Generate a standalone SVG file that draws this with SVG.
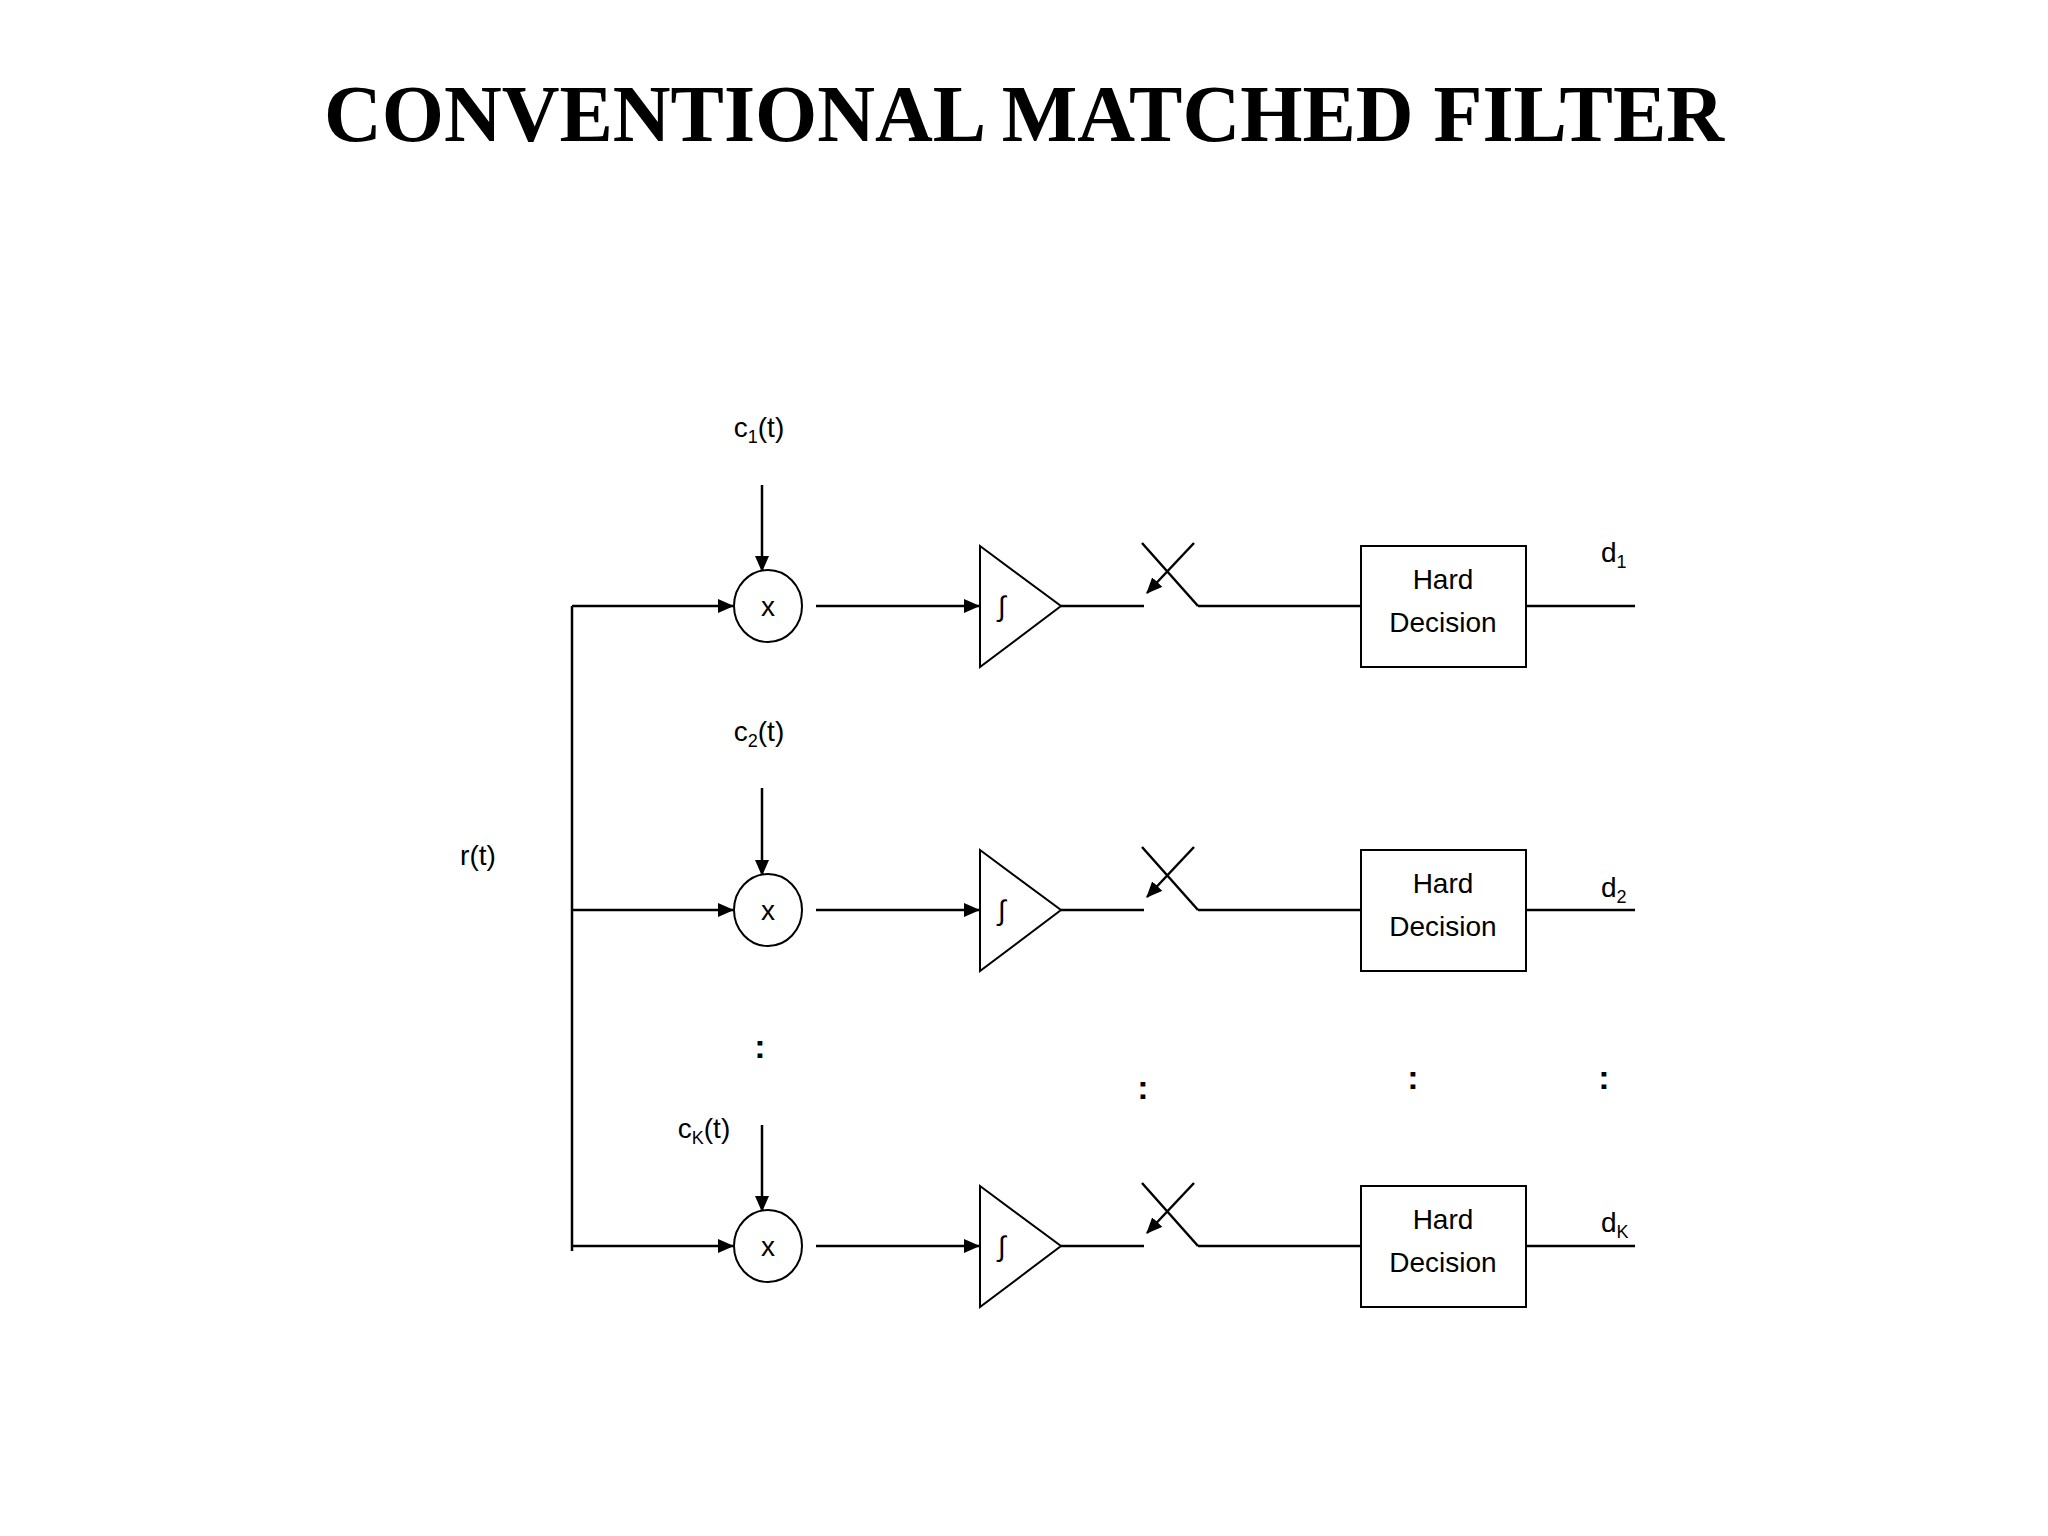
<svg xmlns="http://www.w3.org/2000/svg" width="2048" height="1536" viewBox="0 0 2048 1536">
<defs>
<marker id="ah2" markerWidth="16" markerHeight="14" refX="15" refY="7" orient="auto" markerUnits="userSpaceOnUse"><path d="M0,0 L16,7 L0,14 z" fill="#000"/></marker>
<style>
.l{stroke:#000;stroke-width:2.5;fill:none}
.s{stroke:#000;stroke-width:2;fill:#fff}
.t{font-family:"Liberation Sans",Arial,sans-serif;font-size:28px;fill:#000}
.c{text-anchor:middle}
</style>
</defs>
<rect width="2048" height="1536" fill="#fff"/>
<text x="1024" y="141" text-anchor="middle" font-family="Liberation Serif,serif" font-weight="bold" font-size="80">CONVENTIONAL MATCHED FILTER</text>
<text class="t c" x="478" y="865">r(t)</text>
<g id="connectors">
<path class="l" d="M572,606 V1251"/>
<path class="l" d="M572,606 H733" marker-end="url(#ah2)"/>
<path class="l" d="M572,910 H733" marker-end="url(#ah2)"/>
<path class="l" d="M572,1246 H733" marker-end="url(#ah2)"/>
<path class="l" d="M762,485 V571" marker-end="url(#ah2)"/>
<path class="l" d="M762,788 V875" marker-end="url(#ah2)"/>
<path class="l" d="M762,1125 V1211" marker-end="url(#ah2)"/>
<path class="l" d="M816,606 H979" marker-end="url(#ah2)"/>
<path class="l" d="M816,910 H979" marker-end="url(#ah2)"/>
<path class="l" d="M816,1246 H979" marker-end="url(#ah2)"/>
<path class="l" d="M1061,606 H1144 M1198,606 H1361 M1526,606 H1635"/>
<path class="l" d="M1061,910 H1144 M1198,910 H1361 M1526,910 H1635"/>
<path class="l" d="M1061,1246 H1144 M1198,1246 H1361 M1526,1246 H1635"/>
</g>
<g id="row1">
<text class="t c" x="759" y="437">c<tspan font-size="18" dy="6">1</tspan><tspan dy="-6">(t)</tspan></text>
<ellipse class="s" cx="768" cy="606" rx="34" ry="36"/><text class="t c" x="768" y="616" font-size="22">x</text>
<polygon class="s" points="980,546 1061,606 980,667"/><text class="t" x="998" y="616" font-size="24">∫</text>
<path class="l" d="M1142,543 L1198,606" stroke-width="2"/><path class="l" d="M1194,543 L1147,593" stroke-width="2" marker-end="url(#ah2)"/>
<rect class="s" x="1361" y="546" width="165" height="121"/>
<text class="t c" x="1443" y="589">Hard</text><text class="t c" x="1443" y="632">Decision</text>
<text class="t" x="1601" y="562">d<tspan font-size="18" dy="6">1</tspan></text>
</g>
<g id="row2">
<text class="t c" x="759" y="741">c<tspan font-size="18" dy="6">2</tspan><tspan dy="-6">(t)</tspan></text>
<ellipse class="s" cx="768" cy="910" rx="34" ry="36"/><text class="t c" x="768" y="920" font-size="22">x</text>
<polygon class="s" points="980,850 1061,910 980,971"/><text class="t" x="998" y="920" font-size="24">∫</text>
<path class="l" d="M1142,847 L1198,910" stroke-width="2"/><path class="l" d="M1194,847 L1147,897" stroke-width="2" marker-end="url(#ah2)"/>
<rect class="s" x="1361" y="850" width="165" height="121"/>
<text class="t c" x="1443" y="893">Hard</text><text class="t c" x="1443" y="936">Decision</text>
<text class="t" x="1601" y="897">d<tspan font-size="18" dy="6">2</tspan></text>
</g>
<g id="rowK">
<text class="t c" x="704" y="1138">c<tspan font-size="18" dy="6">K</tspan><tspan dy="-6">(t)</tspan></text>
<ellipse class="s" cx="768" cy="1246" rx="34" ry="36"/><text class="t c" x="768" y="1256" font-size="22">x</text>
<polygon class="s" points="980,1186 1061,1246 980,1307"/><text class="t" x="998" y="1256" font-size="24">∫</text>
<path class="l" d="M1142,1183 L1198,1246" stroke-width="2"/><path class="l" d="M1194,1183 L1147,1233" stroke-width="2" marker-end="url(#ah2)"/>
<rect class="s" x="1361" y="1186" width="165" height="121"/>
<text class="t c" x="1443" y="1229">Hard</text><text class="t c" x="1443" y="1272">Decision</text>
<text class="t" x="1601" y="1232">d<tspan font-size="18" dy="6">K</tspan></text>
</g>
<g id="dots" font-family="Liberation Sans,sans-serif" font-size="34" font-weight="bold" text-anchor="middle">
<text x="760" y="1058">:</text><text x="1143" y="1099">:</text><text x="1413" y="1089">:</text><text x="1604" y="1089">:</text>
</g>
</svg>
